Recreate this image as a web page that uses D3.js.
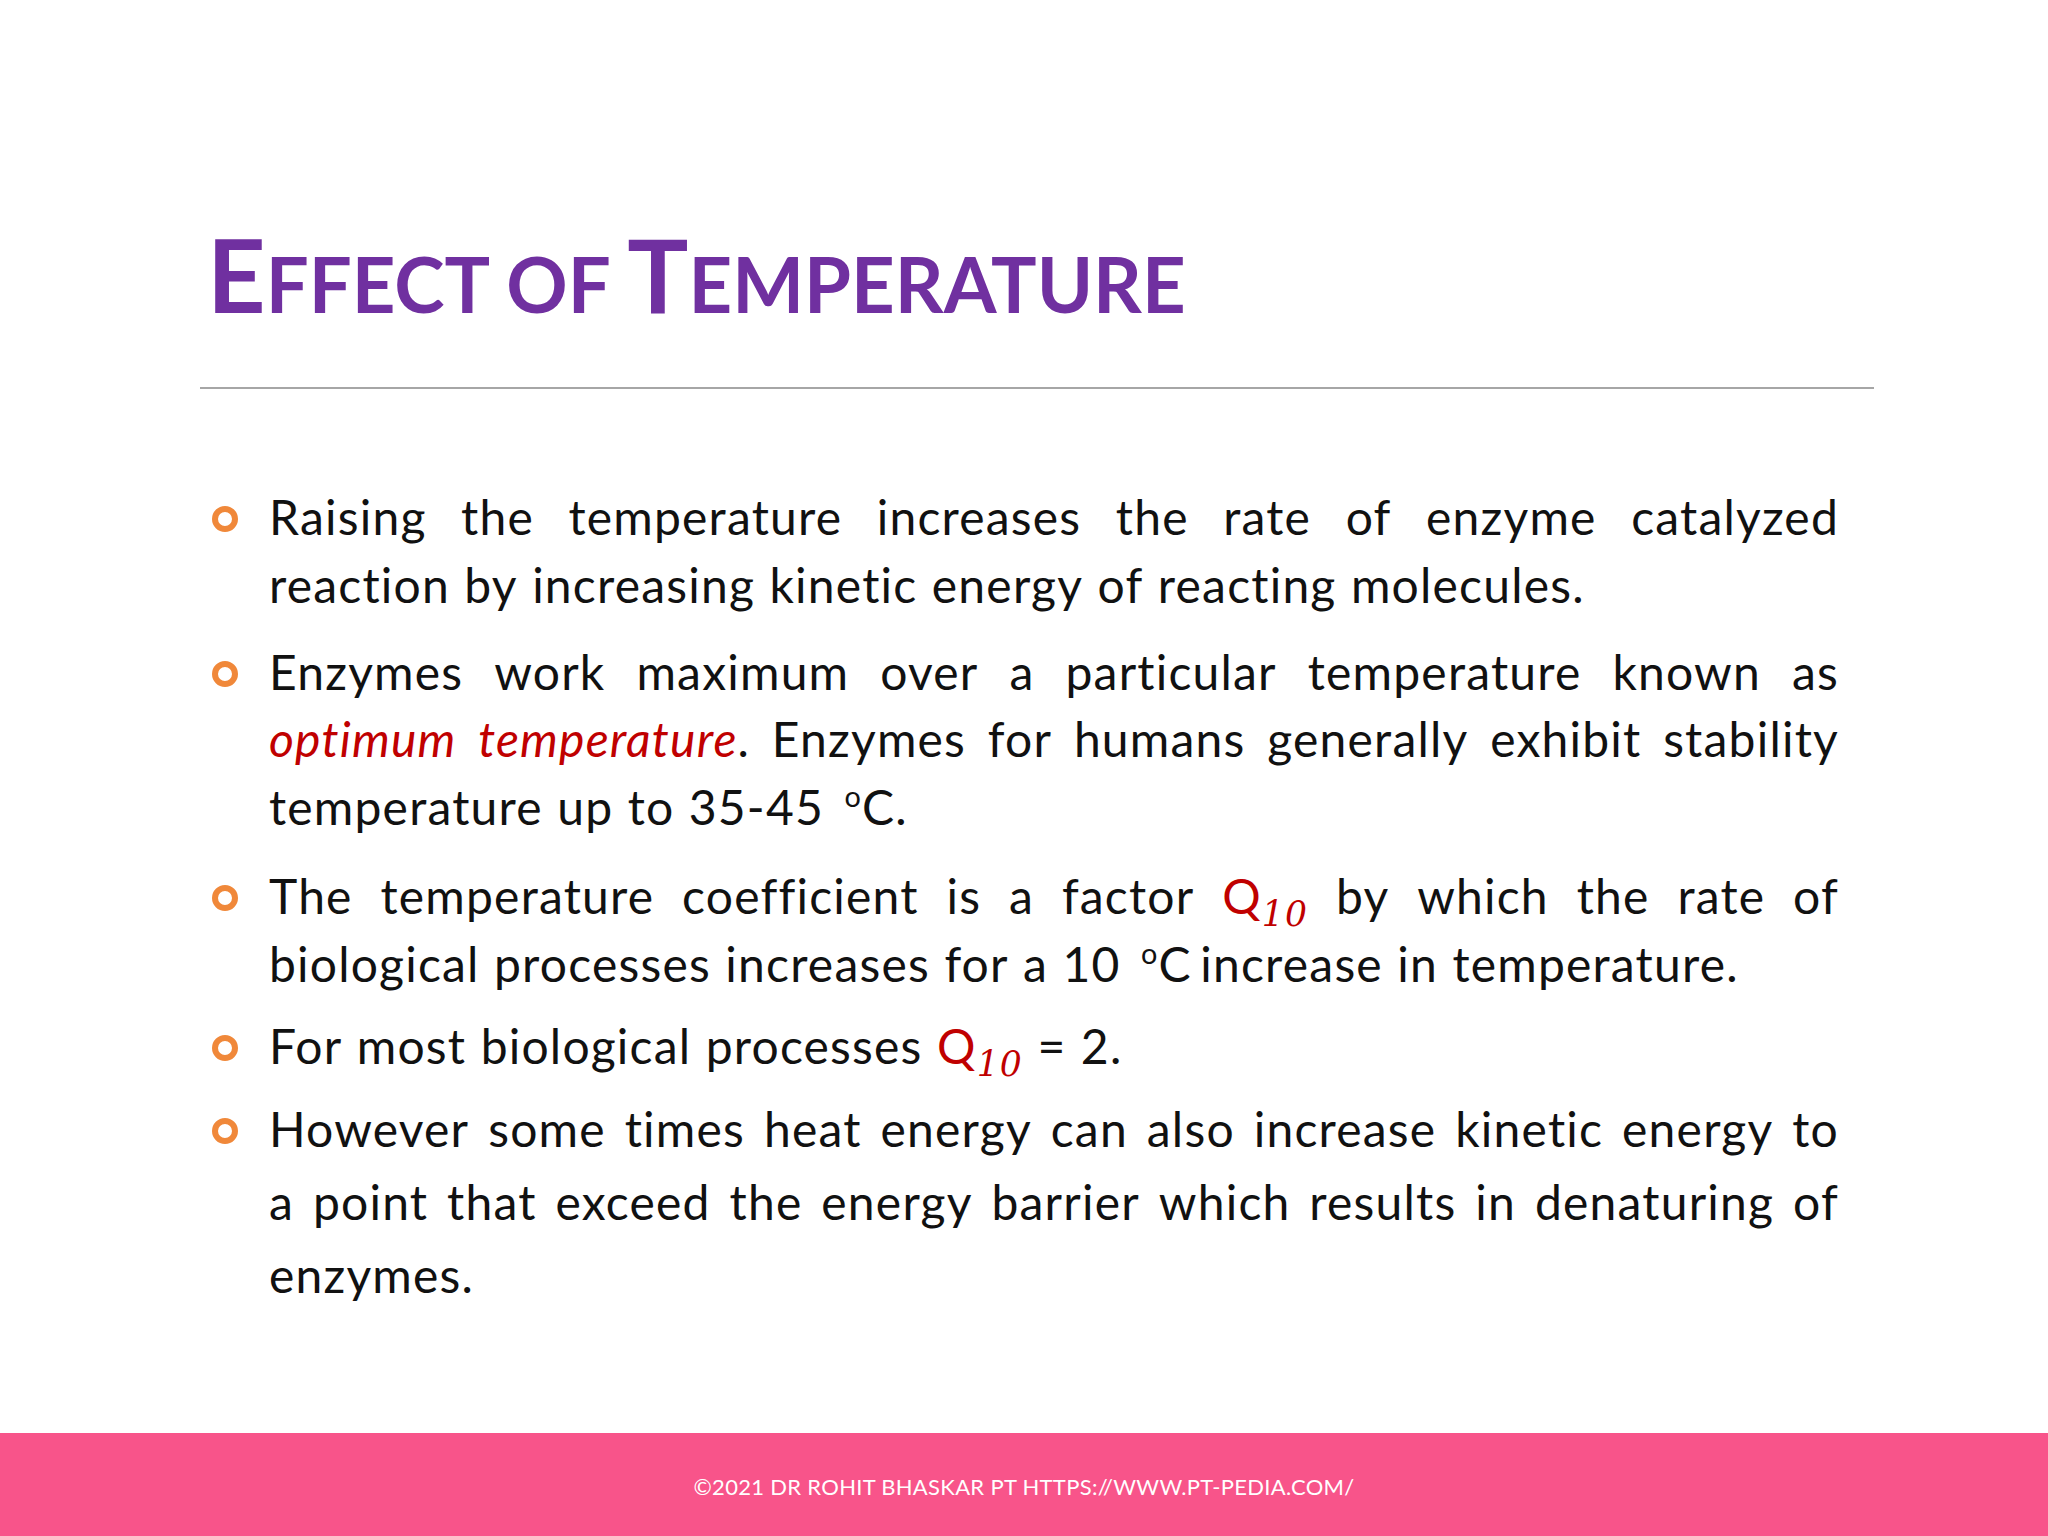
<!DOCTYPE html>
<html><head><meta charset="utf-8">
<script src="https://cdn.jsdelivr.net/npm/d3@7"></script>
<style>body{margin:0;background:#fff}</style>
</head><body>
<script>
// slide content: each line is a list of words, a word is a string or a list of runs
const R = (t, c) => ({t: t, c: c});
const bullets = [
  [
    {j: true, words: "Raising the temperature increases the rate of enzyme catalyzed".split(" ")},
    {j: false, words: "reaction by increasing kinetic energy of reacting molecules.".split(" ")}
  ],
  [
    {j: true, words: "Enzymes work maximum over a particular temperature known as".split(" ")},
    {j: true, words: [[R("optimum", "red")], [R("temperature", "red"), R(".", "")], "Enzymes", "for", "humans", "generally", "exhibit", "stability"]},
    {j: false, words: ["temperature", "up", "to", "35-45", [R("o", "sup"), R("C.", "")]]}
  ],
  [
    {j: true, words: ["The", "temperature", "coefficient", "is", "a", "factor", [R("Q", "q"), R("10", "sub")], "by", "which", "the", "rate", "of"]},
    {j: false, words: ["biological", "processes", "increases", "for", "a", "10", [R("o", "sup"), R("C", "")], "increase", "in", "temperature."]}
  ],
  [
    {j: false, words: ["For", "most", "biological", "processes", [R("Q", "q"), R("10", "sub")], "=", "2."]}
  ],
  [
    {j: true, words: "However some times heat energy can also increase kinetic energy to".split(" ")},
    {j: true, words: "a point that exceed the energy barrier which results in denaturing of".split(" ")},
    {j: false, words: ["enzymes."]}
  ]
];
const baselines = [[535, 603], [690, 757, 825], [914, 982], [1064], [1147, 1220, 1293]];
const footer = "©2021 DR ROHIT BHASKAR PT HTTPS://WWW.PT-PEDIA.COM/";

const W = 2048, H = 1536, left = 269, right = 1839, fs = 48;
const svg = d3.select("body").append("svg").attr("width", W).attr("height", H)
  .style("font-family", "Lato, 'Open Sans', sans-serif");

// title in small caps
const title = svg.append("text").attr("x", 207).attr("y", 313)
  .attr("fill", "#7030A0").attr("font-weight", 700);
[["E", 102], ["FFECT OF ", 76], ["T", 102], ["EMPERATURE", 76]].forEach(([t, s]) =>
  title.append("tspan").attr("font-size", s).text(t));

svg.append("line").attr("x1", 200).attr("x2", 1874).attr("y1", 388).attr("y2", 388)
  .attr("stroke", "#a6a6a6").attr("stroke-width", 2);

const g = svg.append("g").attr("font-size", fs).attr("fill", "#111").attr("letter-spacing", 1.2);
bullets.forEach((b, bi) => {
  svg.append("circle").attr("cx", 225).attr("cy", baselines[bi][0] - 16).attr("r", 10)
    .attr("fill", "none").attr("stroke", "#F0883A").attr("stroke-width", 6);
  b.forEach((line, li) => {
    const y = baselines[bi][li];
    const nodes = line.words.map(w => {
      const runs = typeof w === "string" ? [R(w, "")] : w;
      const t = g.append("text").attr("y", y);
      let shift = 0;
      runs.forEach(r => {
        const sp = t.append("tspan").text(r.t);
        let dy = 0;
        if (r.c === "red") sp.attr("fill", "#C00000").attr("font-style", "italic");
        if (r.c === "q") sp.attr("fill", "#C00000");
        if (r.c === "sub") { sp.attr("fill", "#C00000").attr("font-style", "italic")
          .attr("font-size", fs * 0.72).attr("font-family", "'DejaVu Serif', serif"); dy = 12; }
        if (r.c === "sup") { sp.attr("font-size", fs * 0.6).attr("dx", 6); dy = -18; }
        sp.attr("dy", dy - shift);
        shift = dy;
      });
      return t;
    });
    const widths = nodes.map(n => n.node().getBBox().width);
    const total = d3.sum(widths);
    const gap = line.j && nodes.length > 1 ? (right - left - total) / (nodes.length - 1) : fs * 0.3;
    let x = left;
    nodes.forEach((n, i) => { n.attr("x", x); x += widths[i] + gap; });
  });
});

svg.append("rect").attr("x", 0).attr("y", 1433).attr("width", W).attr("height", H - 1433).attr("fill", "#F8548A");
svg.append("text").attr("x", 1024).attr("y", 1495).attr("text-anchor", "middle")
  .attr("fill", "#fff").attr("font-size", 22).attr("letter-spacing", 0.3).text(footer);
</script>
</body></html>
